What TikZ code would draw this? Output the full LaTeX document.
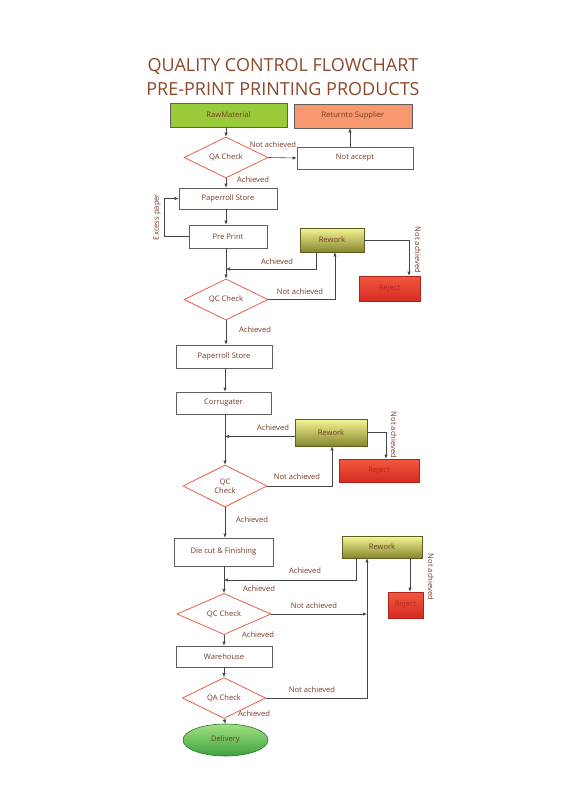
\documentclass[tikz,border=0pt]{standalone}
\usepackage{fontspec}
\setmainfont{Open Sans}
\usetikzlibrary{arrows.meta,shapes.geometric}
\definecolor{titlebrown}{RGB}{140,72,42}
\definecolor{textbrown}{RGB}{118,58,38}
\definecolor{linegray}{RGB}{70,70,70}
\definecolor{boxgray}{RGB}{95,95,95}
\definecolor{checkred}{RGB}{232,78,58}
\definecolor{rawgreen}{RGB}{153,202,58}
\definecolor{supplierorange}{RGB}{247,152,110}
\definecolor{reworktop}{RGB}{246,246,150}
\definecolor{reworkbottom}{RGB}{134,134,46}
\definecolor{rejecttop}{RGB}{242,88,62}
\definecolor{rejectbottom}{RGB}{214,44,34}
\definecolor{rejecttext}{RGB}{180,40,30}
\definecolor{deliverytop}{RGB}{160,224,130}
\definecolor{deliverybottom}{RGB}{62,162,62}
\tikzstyle{stage}=[
	rectangle,
	draw=boxgray,
	line width=0.6pt,
	fill=white,
	text=textbrown,
	font=\fontsize{7.6}{8.6}\selectfont
]
\tikzstyle{source}=[stage, fill=rawgreen]
\tikzstyle{supplier}=[stage, fill=supplierorange]
\tikzstyle{rework}=[
	stage,
	top color=reworktop,
	bottom color=reworkbottom,
	draw=reworkbottom!70!black
]
\tikzstyle{reject}=[
	stage,
	top color=rejecttop,
	bottom color=rejectbottom,
	draw=rejectbottom!80!black,
	text=rejecttext
]
\tikzstyle{check}=[
	diamond,
	draw=checkred,
	line width=0.7pt,
	fill=white,
	inner sep=0pt,
	text=textbrown,
	align=center,
	font=\fontsize{7.6}{8.6}\selectfont
]
\tikzstyle{finish}=[
	ellipse,
	draw=deliverybottom!70!black,
	line width=0.6pt,
	top color=deliverytop,
	bottom color=deliverybottom,
	text=textbrown,
	font=\fontsize{7.6}{8.6}\selectfont
]
\tikzstyle{flow}=[
	-{Latex[length=4pt,width=3.4pt]},
	draw=linegray,
	line width=0.6pt
]
\tikzstyle{note}=[text=textbrown, inner sep=0pt, font=\fontsize{7.6}{8.6}\selectfont]

\begin{document}
\begin{tikzpicture}[x=1pt,y=-1pt]
\useasboundingbox (0,0) rectangle (566,800);
% title
\node [text=titlebrown, font=\fontsize{18}{20}\selectfont] (Title) at (283,67) {QUALITY CONTROL FLOWCHART};
\node [text=titlebrown, font=\fontsize{18}{20}\selectfont] (Subtitle) at (283,89) {PRE-PRINT PRINTING PRODUCTS};

% first stage
\node [source, minimum width=117pt, minimum height=24pt] (RawMaterial) at (228.5,115) {RawMaterial};
\node [supplier, minimum width=118pt, minimum height=24pt] (Supplier) at (353,116) {Returnto Supplier};
\node [check, minimum width=84pt, minimum height=37pt] (QACheckA) at (226,157.5) {QA Check};
\node [stage, minimum width=116pt, minimum height=22pt] (NotAccept) at (355,158) {Not accept};
\node [stage, minimum width=98pt, minimum height=21pt] (StoreA) at (228,198.5) {Paperroll Store};
\node [stage, minimum width=78pt, minimum height=23pt] (PrePrint) at (228,236.5) {Pre Print};
\node [rework, minimum width=64pt, minimum height=24pt] (ReworkA) at (332,240) {Rework};
\node [reject, minimum width=61pt, minimum height=25pt] (RejectA) at (389.5,288.5) {Reject};
\node [check, minimum width=84pt, minimum height=39pt] (QCCheckA) at (226,299.5) {QC Check};

% second stage
\node [stage, minimum width=96pt, minimum height=23pt] (StoreB) at (224,356.5) {Paperroll Store};
\node [stage, minimum width=95pt, minimum height=22pt] (Corrugater) at (223.5,403) {Corrugater};
\node [rework, minimum width=72pt, minimum height=27pt] (ReworkB) at (331,432.5) {Rework};
\node [reject, minimum width=80pt, minimum height=23pt] (RejectB) at (379,470.5) {Reject};
\node [check, minimum width=84pt, minimum height=42pt] (QCCheckB) at (225,486) {QC\\Check};

% third stage
\node [stage, minimum width=99pt, minimum height=28pt] (DieCut) at (223.5,552) {Die cut \& Finishing};
\node [rework, minimum width=80pt, minimum height=22pt] (ReworkC) at (382,547) {Rework};
\node [reject, minimum width=35pt, minimum height=26pt] (RejectC) at (405.5,605) {Reject};
\node [check, minimum width=94pt, minimum height=36pt] (QCCheckC) at (224,614) {QC Check};
\node [stage, minimum width=96pt, minimum height=21pt] (Warehouse) at (224,656.5) {Warehouse};
\node [check, minimum width=83pt, minimum height=28pt] (QACheckB) at (224,698) {QA Check};
\node [finish, minimum width=85pt, minimum height=32pt] (Delivery) at (225.5,740) {Delivery};

% joints
\coordinate (JoinA) at (226,269);
\coordinate (JoinB) at (225,436.5);
\coordinate (JoinC) at (224,580);
\coordinate (Riser) at (367,614);

% connectors, first stage
\draw [flow] (QACheckA.north |- RawMaterial.south) -- (QACheckA.north);
\draw [flow] (QACheckA.east) -- (NotAccept.west);
\draw [flow] ([xshift=-5pt]NotAccept.north) -- ([xshift=-5pt]NotAccept.north |- Supplier.south);
\draw [flow] (QACheckA.south) -- (QACheckA.south |- StoreA.north);
\draw [flow] (QACheckA.south |- StoreA.south) -- (QACheckA.south |- PrePrint.north);
\draw [flow] (PrePrint.west) -- ++(-24,0) |- (StoreA.west);
\draw [flow] (QCCheckA.north |- PrePrint.south) -- (QCCheckA.north);
\draw [flow] ([xshift=-16pt]ReworkA.south) |- (JoinA);
\draw [flow] (ReworkA.east) -| ([xshift=19.5pt]RejectA.north);
\draw [flow] (QCCheckA.east) -| ([xshift=3pt]ReworkA.south);

% connectors, second stage
\draw [flow] (QCCheckA.south) -- (QCCheckA.south |- StoreB.north);
\draw [flow] (QCCheckB.north |- StoreB.south) -- (QCCheckB.north |- Corrugater.north);
\draw [flow] (QCCheckB.north |- Corrugater.south) -- (QCCheckB.north);
\draw [flow] ([yshift=-4pt]ReworkB.west) -- (JoinB);
\draw [flow] (ReworkB.east) -| ([xshift=7pt]RejectB.north);
\draw [flow] (QCCheckB.east) -| ([xshift=1pt]ReworkB.south);

% connectors, third stage
\draw [flow] (QCCheckB.south) -- (QCCheckB.south |- DieCut.north);
\draw [flow] (QCCheckC.north |- DieCut.south) -- (QCCheckC.north);
\draw [flow] ([xshift=-26pt]ReworkC.south) |- (JoinC);
\draw [flow] ([xshift=28pt]ReworkC.south) -- ([xshift=28pt]ReworkC.south |- RejectC.north);
\draw [flow] (QCCheckC.east) -- (Riser);
\draw [flow] (QCCheckC.south) -- (QCCheckC.south |- Warehouse.north);
\draw [flow] (QACheckB.north |- Warehouse.south) -- (QACheckB.north);
\draw [flow] (QACheckB.south) -- (Delivery.north);
\draw [flow] (QACheckB.east) -| ([xshift=-15pt]ReworkC.south);

% labels
\node [note] (NotA) at (273,145) {Not achieved};
\node [note] (AchA) at (253,180) {Achieved};
\node [note, rotate=90] (Excess) at (157,217) {Excess paper};
\node [note] (AchB) at (277,262) {Achieved};
\node [note] (NotB) at (300,292) {Not achieved};
\node [note, rotate=-90] (NotC) at (418,250) {Not achieved};
\node [note] (AchC) at (255,330) {Achieved};
\node [note] (AchD) at (273,428) {Achieved};
\node [note, rotate=-90] (NotD) at (394,435) {Not achieved};
\node [note] (NotE) at (297,477) {Not achieved};
\node [note] (AchE) at (252,520) {Achieved};
\node [note] (AchF) at (305,571) {Achieved};
\node [note] (AchG) at (259,589) {Achieved};
\node [note] (NotF) at (314,606) {Not achieved};
\node [note, rotate=-90] (NotG) at (431,577) {Not achieved};
\node [note] (AchH) at (258,635) {Achieved};
\node [note] (NotH) at (312,690) {Not achieved};
\node [note] (AchI) at (254,714) {Achieved};
\end{tikzpicture}
\end{document}
